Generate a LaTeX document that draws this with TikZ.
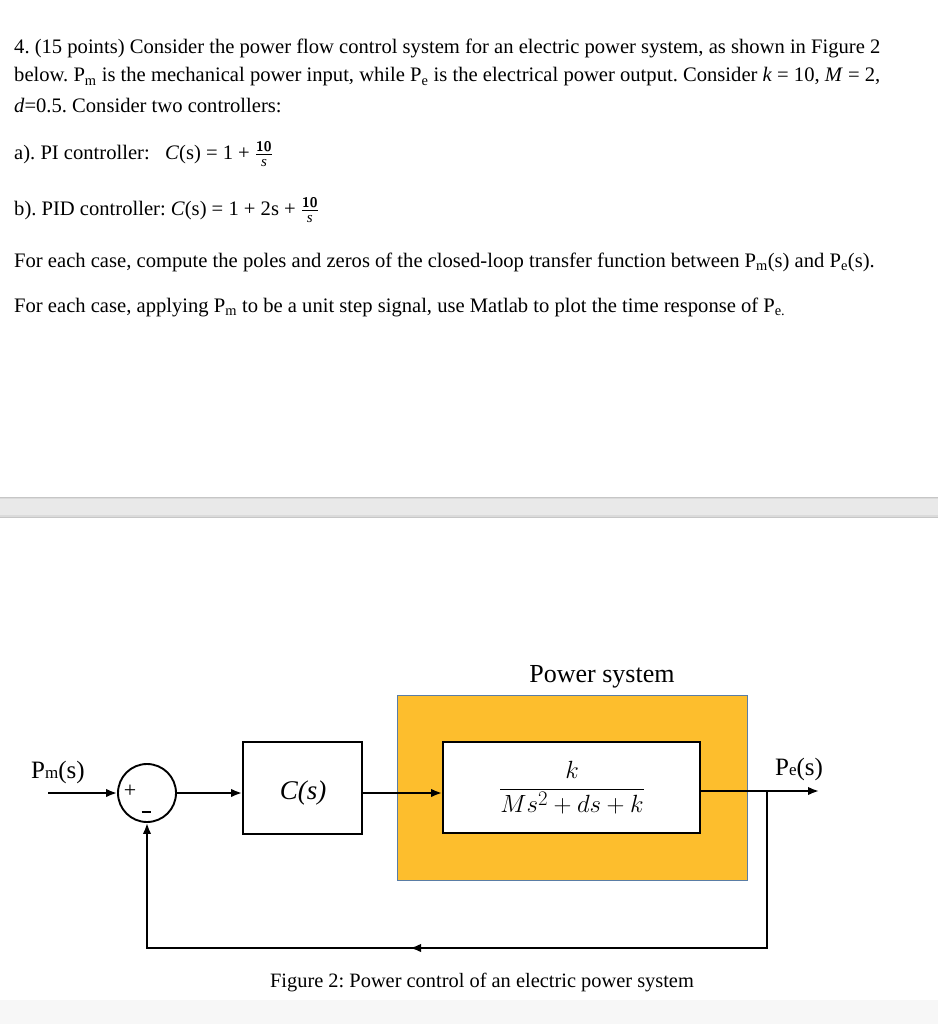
\documentclass[tikz,border=0pt]{standalone}
\usepackage{fontspec}
\setmainfont{Liberation Serif}
\usetikzlibrary{arrows.meta}
\frenchspacing
\tikzset{
  txt/.style={anchor=west,inner sep=0pt,font=\fontsize{20.6}{24}\selectfont},
  blk/.style={draw=black,line width=1.9pt,fill=white},
  sig/.style={line width=1.9pt,-{Latex[length=11pt,width=8.5pt]}},
  wire/.style={line width=1.9pt},
}
\newcommand{\sub}[1]{\textsubscript{#1}}
\newcommand{\tenover}{$\frac{\hbox{\fontsize{14}{14}\selectfont\bfseries\sffamily 10}}{\hbox{\fontsize{15}{15}\selectfont\itshape s}}$}
\begin{document}
\begin{tikzpicture}[x=1pt,y=-1pt]
\useasboundingbox (0,0) rectangle (938,1024);
\fill[white] (0,0) rectangle (938,1024);
\fill[gray!6] (0,1000) rectangle (938,1024);
% text
\node[txt] (l1) at (14,48) {4. (15 points) Consider the power flow control system for an electric power system, as shown in Figure 2};
\node[txt] (l2) at (14,77) {below. P\sub{m} is the mechanical power input, while P\sub{e} is the electrical power output. Consider \textit{k} = 10, \textit{M} = 2,};
\node[txt] (l3) at (14,106) {\textit{d}=0.5. Consider two controllers:};
\node[txt] (la) at (14,154) {a). PI controller:\enspace\ \textit{C}(s) = 1 + \tenover};
\node[txt] (lb) at (14,210) {b). PID controller: \textit{C}(s) = 1 + 2s + \tenover};
\node[txt] (lc) at (14,262) {For each case, compute the poles and zeros of the closed-loop transfer function between P\sub{m}(s) and P\sub{e}(s).};
\node[txt] (ld) at (14,307) {For each case, applying P\sub{m} to be a unit step signal, use Matlab to plot the time response of P\sub{e.}};
% gray band
\fill[gray!28] (0,497) rectangle (938,518);
\fill[gray!17] (0,499) rectangle (938,515);
\draw[gray!45,line width=0.8pt] (0,497.5) -- (938,497.5);
\draw[gray!45,line width=0.8pt] (0,517.5) -- (938,517.5);
% diagram
\node[anchor=center,inner sep=0pt,font=\fontsize{26}{30}\selectfont] (ps) at (602,677) {Power system};
\node[draw={rgb,255:red,90;green,125;blue,165},line width=0.9pt,fill={rgb,255:red,253;green,190;blue,45},minimum width=350pt,minimum height=185pt,inner sep=0pt] (orange) at (572,787.5) {};
\node[blk,minimum width=257pt,minimum height=91pt,inner sep=0pt] (plant) at (571.5,787.5) {};
\node[inner sep=0pt,font=\fontsize{28.5}{32}\selectfont] (tf) at (572,788) {$\displaystyle\frac{k}{Ms^2+ds+k}$};
\node[blk,minimum width=119pt,minimum height=92pt,inner sep=0pt] (C) at (302.5,788) {};
\node[inner sep=0pt,font=\fontsize{27}{30}\selectfont\itshape] (Ctxt) at (303,793) {C(s)};
\node[draw,circle,line width=1.9pt,minimum size=58pt,inner sep=0pt] (sum) at (147,793) {};
\node[inner sep=0pt,font=\fontsize{22}{22}\selectfont] (plus) at (130,791) {+};
\node[inner sep=0pt] (minus) at (146,812) {\rule{9pt}{2.8pt}};
\node[inner sep=0pt,anchor=west,font=\fontsize{25}{28}\selectfont] (pm) at (31,772) {P{\fontsize{17}{17}\selectfont m}(s)};
\node[inner sep=0pt,anchor=west,font=\fontsize{25}{28}\selectfont] (pe) at (775,769) {P{\fontsize{17}{17}\selectfont e}(s)};
\coordinate (in) at (48,793);
\coordinate (out) at (819,791);
\coordinate (br) at (767,791);
\coordinate (bl) at (767,948);
\coordinate (bm) at (147,948);
\coordinate (mid) at (410,948);
\draw[sig] (in) -- (sum.west);
\draw[sig] (sum.east) -- (C.west |- sum.east);
\draw[sig] (C.east |- sum.east) -- (plant.west |- sum.east);
\draw[sig] (plant.east |- out) -- (out);
\draw[wire] (br) -- (bl) -- (mid);
\draw[sig] (bl) -- (mid);
\draw[sig] (mid) -- (bm) -- (sum.south);
\node[inner sep=0pt,font=\fontsize{20.4}{24}\selectfont] (cap) at (482,983) {Figure 2: Power control of an electric power system};
\end{tikzpicture}
\end{document}
